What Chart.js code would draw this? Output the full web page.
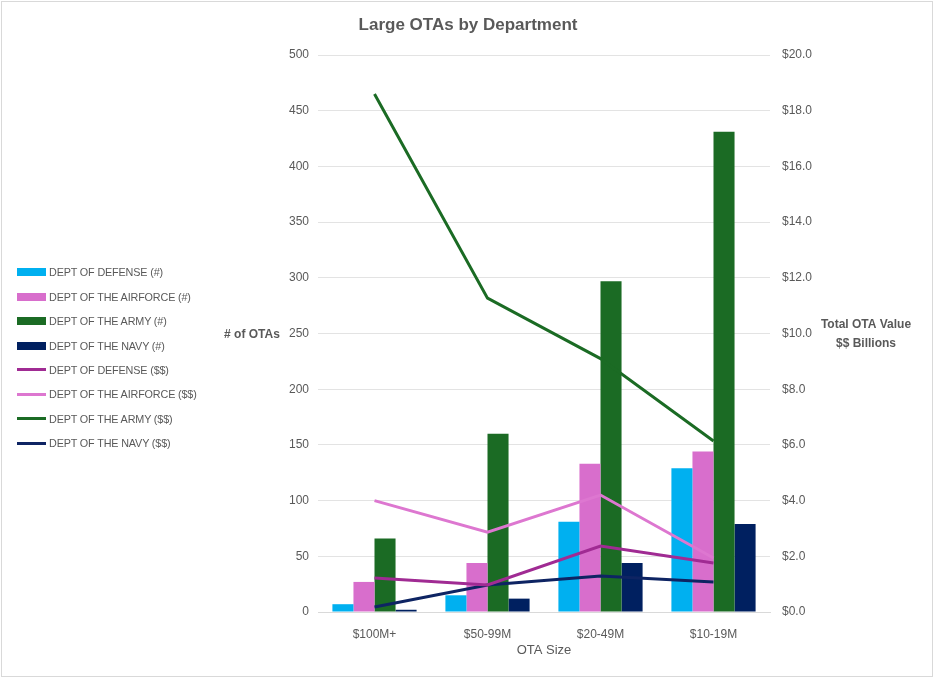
<!DOCTYPE html>
<html>
<head>
<meta charset="utf-8">
<script src="https://cdn.jsdelivr.net/npm/chart.js@4"></script>
<style>
    body { margin: 0; background: #fff; }
    #wrap { position: relative; width: 936px; height: 680px; }
    #frame { position: absolute; left: 1px; top: 1px; width: 932px; height: 676px; border: 1px solid #d9d9d9; box-sizing: border-box; pointer-events: none; }
    #legend { position: absolute; left: 17px; top: 260px; font-family: "Liberation Sans", Arial, sans-serif; font-size: 10.8px; color: #595959; letter-spacing: -0.15px; }
    #legend .item { display: flex; align-items: center; height: 24.45px; }
    #legend .sw { width: 29px; margin-right: 3px; }
</style>
</head>
<body>
<div id="wrap">
    <canvas id="chart" width="936" height="680"></canvas>
    <div id="legend"></div>
    <div id="frame"></div>
</div>
<script>
// categories and values
const categories = ['$100M+', '$50-99M', '$20-49M', '$10-19M']

const defenseCount = [7, 15, 81, 129]
const airforceCount = [27, 44, 133, 144]
const armyCount = [66, 160, 297, 431]
const navyCount = [2, 12, 44, 79]

const defenseValue = [1.22, 0.97, 2.37, 1.76]
const airforceValue = [4.0, 2.87, 4.2, 1.94]
const armyValue = [18.6, 11.27, 9.1, 6.14]
const navyValue = [0.18, 0.97, 1.29, 1.08]

const countTicks = [0, 50, 100, 150, 200, 250, 300, 350, 400, 450, 500]
const valueTicks = [0, 2, 4, 6, 8, 10, 12, 14, 16, 18, 20]

const grey = '#595959'
const font = '"Liberation Sans", Arial, sans-serif'

const barSet = (label, data, color) => ({
    type: 'bar', label, data, backgroundColor: color, borderWidth: 0,
    yAxisID: 'y', order: 2, barPercentage: 1.0, categoryPercentage: 0.745
})
const lineSet = (label, data, color) => ({
    type: 'line', label, data, borderColor: color, backgroundColor: color,
    borderWidth: 3, pointRadius: 0, tension: 0, yAxisID: 'y2', order: 1
})

const datasets = [
    barSet('DEPT OF DEFENSE (#)', defenseCount, '#00B0F0'),
    barSet('DEPT OF THE AIRFORCE (#)', airforceCount, '#D86ECC'),
    barSet('DEPT OF THE ARMY (#)', armyCount, '#1B6B24'),
    barSet('DEPT OF THE NAVY (#)', navyCount, '#002060'),
    lineSet('DEPT OF DEFENSE ($$)', defenseValue, '#A02B93'),
    lineSet('DEPT OF THE AIRFORCE ($$)', airforceValue, '#DD77D0'),
    lineSet('DEPT OF THE ARMY ($$)', armyValue, '#1B6B24'),
    lineSet('DEPT OF THE NAVY ($$)', navyValue, '#0E2463'),
]

// title and horizontal axis titles drawn on the canvas
const textPlugin = {
    id: 'texts',
    afterDraw(chart) {
        const ctx = chart.ctx
        const area = chart.chartArea
        ctx.save()
        ctx.fillStyle = grey
        ctx.textAlign = 'center'
        ctx.textBaseline = 'middle'
        ctx.font = `bold 17px ${font}`
        ctx.fillText('Large OTAs by Department', 468, 25)
        ctx.font = `bold 12px ${font}`
        ctx.fillText('# of OTAs', 252, 335)
        ctx.fillText('Total OTA Value', 866, 325)
        ctx.fillText('$$ Billions', 866, 344)
        ctx.font = `13px ${font}`
        ctx.fillText('OTA Size', (area.left + area.right) / 2, 650)
        ctx.restore()
    }
}

const chart = new Chart(document.getElementById('chart').getContext('2d'), {
    data: {labels: categories, datasets},
    plugins: [textPlugin],
    options: {
        responsive: false,
        animation: false,
        layout: {padding: {top: 55, left: 0, right: 0, bottom: 0}},
        plugins: {legend: {display: false}, tooltip: {enabled: false}},
        scales: {
            x: {
                grid: {display: false},
                border: {color: '#d9d9d9'},
                ticks: {color: grey, font: {family: font, size: 12}, padding: 7},
                afterFit: (s) => { s.height = 68 }
            },
            y: {
                position: 'left', min: 0, max: 500,
                afterBuildTicks: (s) => { s.ticks = countTicks.map(v => ({value: v})) },
                grid: {color: '#e3e3e3', drawTicks: false},
                border: {display: false},
                ticks: {color: grey, font: {family: font, size: 12}, padding: 9},
                afterFit: (s) => { s.width = 318 }
            },
            y2: {
                position: 'right', min: 0, max: 20,
                afterBuildTicks: (s) => { s.ticks = valueTicks.map(v => ({value: v})) },
                grid: {display: false, drawTicks: false},
                border: {display: false},
                ticks: {color: grey, font: {family: font, size: 12}, padding: 12,
                    callback: (v) => '$' + v.toFixed(1)},
                afterFit: (s) => { s.width = 166 }
            }
        }
    }
})

// legend on the left, built from the datasets
const legend = document.getElementById('legend')
datasets.forEach(ds => {
    const item = document.createElement('div')
    item.className = 'item'
    const sw = document.createElement('div')
    sw.className = 'sw'
    sw.style.height = ds.type === 'bar' ? '8px' : '3px'
    sw.style.background = ds.type === 'bar' ? ds.backgroundColor : ds.borderColor
    item.appendChild(sw)
    item.appendChild(document.createTextNode(ds.label))
    legend.appendChild(item)
})
</script>
</body>
</html>
